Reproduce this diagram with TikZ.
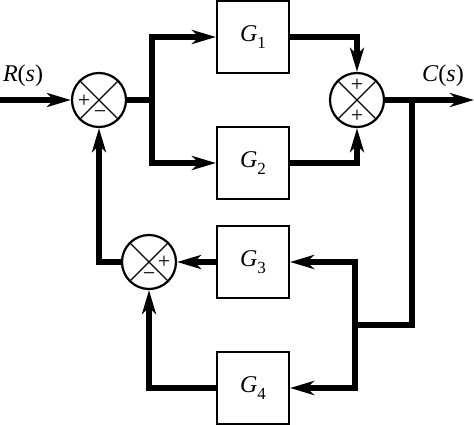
\documentclass[tikz,border=0pt]{standalone}
\usepackage{fontspec}
\setmainfont{Liberation Serif}
\usetikzlibrary{arrows.meta,calc}
\newcommand{\gsub}[1]{\textit{G}\raisebox{-0.3em}{\fontsize{17}{17}\selectfont #1}}
\begin{document}
\begin{tikzpicture}[x=1pt,y=-1pt,
  blk/.style={draw,line width=2pt,minimum width=72pt,minimum height=72pt,inner sep=0pt,font=\fontsize{24}{26}\selectfont},
  sumj/.style={draw,circle,line width=2.2pt,minimum size=54pt,inner sep=0pt},
  xline/.style={line width=1.1pt},
  sig/.style={line width=5.5pt},
  arr/.style={sig,-{Stealth[length=24pt,width=14pt,inset=7pt]}},
  sgn/.style={font=\fontsize{22}{22}\selectfont,inner sep=0pt},
  lbl/.style={font=\fontsize{24}{26}\selectfont,inner sep=0pt}]
\useasboundingbox (0,0) rectangle (474,425);
% blocks
\node[blk] (g1) at (253,37) {\gsub{1}};
\node[blk] (g2) at (253,163) {\gsub{2}};
\node[blk] (g3) at (253,262) {\gsub{3}};
\node[blk] (g4) at (253,388) {\gsub{4}};
% summing junctions
\node[sumj] (s1) at (99,100) {};
\node[sumj] (s2) at (357,100) {};
\node[sumj] (s3) at (149,262) {};
\foreach \s in {s1,s2,s3}{
  \draw[xline] (\s.north east) -- (\s.south west);
  \draw[xline] (\s.north west) -- (\s.south east);
}
% signs
\node[sgn] (p1) at ($(s1.center)+(-15,1)$) {+};
\node[sgn] (m1) at ($(s1.center)+(1,15)$) {−};
\node[sgn] (p2) at ($(s2.center)+(0,-15)$) {+};
\node[sgn] (p3) at ($(s2.center)+(0,16)$) {+};
\node[sgn] (p4) at ($(s3.center)+(15,0)$) {+};
\node[sgn] (m2) at ($(s3.center)+(0,15)$) {−};
% labels
\node[lbl] (rl) at (23,76) {\textit{R}(\textit{s})};
\node[lbl] (cl) at (443,76) {\textit{C}(\textit{s})};
% coordinates
\coordinate (in) at (0,100);
\coordinate (out) at (474,100);
\coordinate (b1) at (152,100);
\coordinate (b2) at (412,100);
\coordinate (b3) at (412,325);
\coordinate (b4) at (355,325);
% forward
\draw[arr] (in) -- (s1.west);
\draw[sig] (s1.east) -- (b1);
\draw[arr] (b1) |- (g1.west);
\draw[arr] (b1) |- (g2.west);
\draw[arr] (g1.east) -| (s2.north);
\draw[arr] (g2.east) -| (s2.south);
\draw[arr] (s2.east) -- (out);
% feedback
\draw[sig] (b2) -- (b3) -- (b4);
\draw[arr] (b4) |- (g3.east);
\draw[arr] (b4) |- (g4.east);
\draw[arr] (g3.west) -- (s3.east);
\draw[arr] (g4.west) -| (s3.south);
\draw[arr] (s3.west) -| (s1.south);
\end{tikzpicture}
\end{document}
